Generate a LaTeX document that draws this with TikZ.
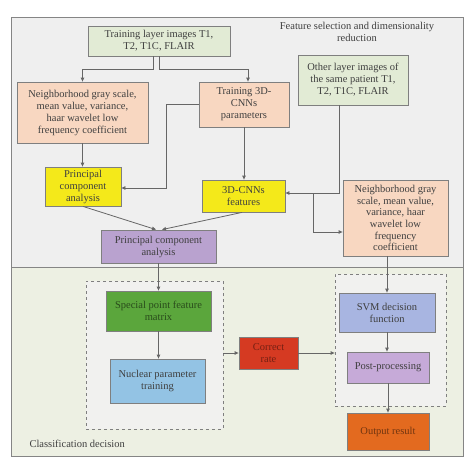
\documentclass[tikz,border=0pt]{standalone}
\usepackage{fontspec}
\setmainfont{Liberation Serif}
\usetikzlibrary{arrows.meta,calc}
\definecolor{topbg}{HTML}{EFEFEF}
\definecolor{botbg}{HTML}{EDF0E3}
\definecolor{frame}{HTML}{858585}
\definecolor{boxline}{HTML}{7F7F7F}
\definecolor{linec}{HTML}{666666}
\definecolor{txt}{HTML}{3F3F3F}
\definecolor{lgreen}{HTML}{E2EBD5}
\definecolor{peach}{HTML}{F8D7C1}
\definecolor{yel}{HTML}{F4E91A}
\definecolor{purp}{HTML}{B9A2CF}
\definecolor{grn}{HTML}{5BA63C}
\definecolor{lblue}{HTML}{93C3E4}
\definecolor{rd}{HTML}{D53A22}
\definecolor{svmc}{HTML}{A8B5E1}
\definecolor{postc}{HTML}{C6AAD8}
\definecolor{orng}{HTML}{E36A1F}
\definecolor{dashfill}{HTML}{F1F1EF}
\begin{document}
\begin{tikzpicture}[x=1pt,y=-1pt,
  box/.style={draw=boxline, line width=0.8pt, align=center, inner sep=1pt,
    font=\fontsize{10.5}{12}\selectfont, text=txt},
  sz/.style 2 args={minimum width=#1pt, minimum height=#2pt},
  dbox/.style={draw=boxline, dashed, line width=0.8pt, fill=dashfill},
  arr/.style={draw=linec, line width=0.8pt, -{Triangle[length=4pt,width=3.5pt]}},
  lbl/.style={align=center, font=\fontsize{10.5}{12}\selectfont, text=txt}]
\useasboundingbox (0,0) rectangle (474,474);
\fill[white] (0,0) rectangle (474,474);
\fill[topbg] (11,17) rectangle (463,267);
\fill[botbg] (11,267) rectangle (463,456);
\draw[frame, line width=0.9pt] (11,17) rectangle (463,456);
\draw[frame, line width=0.9pt] (11,267) -- (463,267);

\node[lbl] (title) at (357,32) {Feature selection and dimensionality\\reduction};
\node[lbl, anchor=west] (cls) at (26,444) {Classification decision};

% top section
\node[box, fill=lgreen, sz={142}{30}] (tl) at (159,41) {Training layer images T1,\\T2, T1C, FLAIR};
\node[box, fill=peach, sz={131}{61}] (nl) at (82.5,112.5) {Neighborhood gray scale,\\mean value, variance,\\haar wavelet low\\frequency coefficient};
\node[box, fill=peach, sz={90}{45}] (tc) at (244,104.5) {Training 3D-\\CNNs\\parameters};
\node[box, fill=lgreen, sz={110}{50}] (ol) at (353,80) {Other layer images of\\the same patient T1,\\T2, T1C, FLAIR};
\node[box, fill=yel, sz={76}{39}] (pca1) at (83,186.5) {Principal\\component\\analysis};
\node[box, fill=yel, sz={83}{32}] (feat) at (243.5,196) {3D-CNNs\\features};
\node[box, fill=peach, sz={105}{76}, font=\fontsize{10.5}{11.7}\selectfont] (nr) at (395.5,218) {Neighborhood gray\\scale, mean value,\\variance, haar\\wavelet low\\frequency\\coefficient};
\node[box, fill=purp, sz={115}{33}] (pca2) at (158.5,246.5) {Principal component\\analysis};

% bottom section
\node[dbox, sz={137}{148}] (dl) at (154.5,355) {};
\node[dbox, sz={111}{132}] (dr) at (390.5,340) {};
\node[box, fill=grn, sz={105}{40}, text=grn!45!black] (sp) at (158.5,311) {Special point feature\\matrix};
\node[box, fill=lblue, sz={95}{44}] (np) at (157.5,381) {Nuclear parameter\\training};
\node[box, fill=rd, sz={59}{32}, text=rd!55!black] (cr) at (268.5,353) {Correct\\rate};
\node[box, fill=svmc, sz={96}{39}] (svm) at (387,312.5) {SVM decision\\function};
\node[box, fill=postc, sz={82}{31}] (pp) at (388,367.5) {Post-processing};
\node[box, fill=orng, sz={82}{37}, text=orng!50!black] (out) at (388,431.5) {Output result};

\coordinate (j1) at (313,193);

% connectors
\draw[arr] ([xshift=-6pt]tl.south) -- ([xshift=-6pt]tl.south |- 0,69) -| (nl.north);
\draw[arr] (tl.south) -- (tl.south |- 0,69) -| ([xshift=4pt]tc.north);
\draw[arr] (tc.west) -| ($(pca1.east)+(45,1.5)$) -- ([yshift=-1.5pt]pca1.east);
\draw[arr] (nl.south) -- (nl.south |- pca1.north);
\draw[arr] (tc.south) -- (tc.south |- feat.north);
\draw[arr] ([xshift=-14pt]ol.south) |- ([yshift=3pt]feat.east);
\draw[arr] (j1) |- ([yshift=-14pt]nr.west);
\draw[arr] (pca1.south) -- ([xshift=-2.5pt]pca2.north);
\draw[arr] ([xshift=-1.5pt]feat.south) -- ([xshift=3.5pt]pca2.north);
\draw[arr] (pca2.south) -- (pca2.south |- sp.north);
\draw[arr] (sp.south) -- (sp.south |- np.north);
\draw[arr] (dl.east |- cr.west) -- (cr.west);
\draw[arr] (cr.east) -- (cr.east -| dr.west);
\draw[arr] (svm.north |- nr.south) -- (svm.north);
\draw[arr] (svm.south) -- (svm.south |- pp.north);
\draw[arr] (pp.south) -- (pp.south |- out.north);
\end{tikzpicture}
\end{document}
